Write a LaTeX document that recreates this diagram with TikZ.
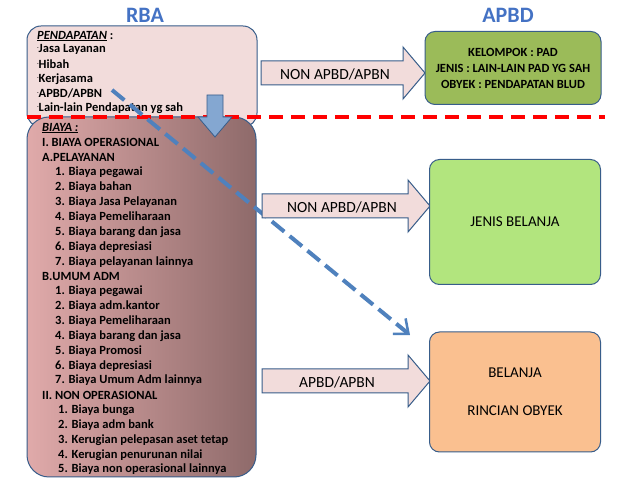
\documentclass[tikz,border=0pt]{standalone}
\usepackage{fontspec}
\setmainfont{Carlito}
\usetikzlibrary{arrows.meta}
\definecolor{bl}{HTML}{4F81BD}
\definecolor{tb}{HTML}{4472C4}
\definecolor{edge}{HTML}{385D8A}
\definecolor{pk}{HTML}{F2DCDB}
\definecolor{gl}{HTML}{E0AAAA}
\definecolor{gr}{HTML}{8E6A6A}
\definecolor{padg}{HTML}{9BBB59}
\definecolor{jbg}{HTML}{B2E57E}
\definecolor{org}{HTML}{FAC090}
\begin{document}
\begin{tikzpicture}[x=1pt,y=-1pt,
 t/.style={font=\fontsize{12.5}{14}\selectfont\bfseries,anchor=west,inner sep=0pt},
 lab/.style={font=\fontsize{15.5}{17}\selectfont,inner sep=0pt},
 rbox/.style={draw=edge,line width=1pt,rounded corners=10pt,align=center,font=\fontsize{12.5}{16}\selectfont\bfseries}]
\useasboundingbox (0,0) rectangle (638,478);
\fill[white] (0,0) rectangle (638,478);
\node[font=\fontsize{22}{24}\selectfont\bfseries,text=tb] (rba) at (145,15) {RBA};
\node[font=\fontsize{22}{24}\selectfont\bfseries,text=tb] (apbd) at (508,15) {APBD};
\draw[edge,line width=1pt,fill=pk,rounded corners=14pt] (27,26) rectangle (257,127);
\shade[left color=gl,right color=gr,rounded corners=22pt] (27,117) rectangle (256,477);
\draw[edge,line width=1pt,rounded corners=22pt] (27,117) rectangle (256,477);
\node[t] (p0) at (37,36) {\underline{\itshape PENDAPATAN} :};
\foreach \s [count=\i] in {Jasa Layanan,Hibah,Kerjasama,APBD/APBN,Lain-lain Pendapatan yg sah}
  \node[t] (p\i) at (37,35+14.7*\i) {\raisebox{3pt}{\tiny-}\s};
\node[t] (b0) at (42,128) {\underline{\itshape BIAYA :}};
\foreach \s/\xx [count=\i] in {I. BIAYA OPERASIONAL/42,A.PELAYANAN/42,1. Biaya pegawai/55,2. Biaya bahan/55,3. Biaya Jasa Pelayanan/55,4. Biaya Pemeliharaan/55,5. Biaya barang dan jasa/55,6. Biaya depresiasi/55,7. Biaya pelayanan lainnya/55,B.UMUM ADM/42,1. Biaya pegawai/55,2. Biaya adm.kantor/55,3. Biaya Pemeliharaan/55,4. Biaya barang dan jasa/55,5. Biaya Promosi/55,6. Biaya depresiasi/55,7. Biaya Umum Adm lainnya/55,II. NON OPERASIONAL/42,1. Biaya bunga/58,2. Biaya adm bank/58,3. Kerugian pelepasan aset tetap/58,4. Kerugian penurunan nilai/58,5. Biaya non operasional lainnya/58}
  \node[t] (b\i) at (\xx,128+14.85*\i) {\s};
\draw[red,line width=3.5pt,dash pattern=on 14pt off 8pt] (27,117) -- (605,117);
% down block arrow
\draw[edge,line width=0.8pt,fill=bl!70] (207,95) -- (223,95) -- (223,117) -- (232,117) -- (215,137) -- (198,117) -- (207,117) -- cycle;
\coordinate (ds) at (112,90);
\coordinate (de) at (410,335);
\draw[bl,line width=4pt,dash pattern=on 16pt off 7pt,-{Straight Barb[length=12pt,width=20pt,line width=2.5pt]}] (ds) -- (de);
% block arrows
\foreach \nm/\xa/\xb/\yc in {a1/261/425/73,a2/262/430/206,a3/262/430/381}{
  \draw[edge,line width=1pt,fill=pk] (\xa,\yc-12) -- (\xb-22,\yc-12) -- (\xb-22,\yc-26) -- (\xb,\yc) -- (\xb-22,\yc+26) -- (\xb-22,\yc+12) -- (\xa,\yc+12) -- cycle;
  \coordinate (\nm) at (\xa,\yc);
}
\node[lab] at (335,74) {NON APBD/APBN};
\node[lab] at (342,207) {NON APBD/APBN};
\node[lab] at (337,382) {APBD/APBN};
\node[rbox,fill=padg,minimum width=176pt,minimum height=73pt] (pad) at (513,68) {KELOMPOK : PAD\\JENIS : LAIN-LAIN PAD YG SAH\\OBYEK : PENDAPATAN BLUD};
\node[rbox,fill=jbg,minimum width=171pt,minimum height=125pt,font=\fontsize{15}{17}\selectfont] (jb) at (515,222) {JENIS BELANJA};
\node[rbox,fill=org,minimum width=171pt,minimum height=120pt,font=\fontsize{15}{38}\selectfont] (bel) at (515,392) {BELANJA\\RINCIAN OBYEK};
\end{tikzpicture}
\end{document}
